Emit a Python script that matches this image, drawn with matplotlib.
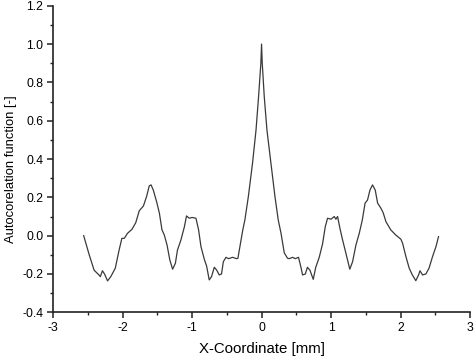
import numpy as np
import matplotlib
matplotlib.use("Agg")
import matplotlib.pyplot as plt
from matplotlib.ticker import MultipleLocator, FormatStrFormatter

# Autocorrelation curve
xCoord = [-2.56, -2.48, -2.41, -2.34, -2.32, -2.29, -2.26, -2.216, -2.17, -2.105,
          -2.05, -2.01, -1.975, -1.93, -1.865, -1.81, -1.76, -1.70, -1.655, -1.616,
          -1.59, -1.558, -1.51, -1.47, -1.433, -1.40, -1.36, -1.32, -1.28, -1.24,
          -1.21, -1.16, -1.11, -1.08, -1.04, -1.00, -0.944, -0.906, -0.872, -0.824,
          -0.79, -0.753, -0.72, -0.68, -0.647, -0.609, -0.576, -0.55, -0.512, -0.475,
          -0.417, -0.36, -0.34, -0.32, -0.27, -0.24, -0.19, -0.13, -0.08, -0.043,
          -0.01, 0.0, 0.01, 0.039, 0.078, 0.135, 0.193, 0.24, 0.28, 0.327,
          0.374, 0.40, 0.446, 0.485, 0.532, 0.567, 0.59, 0.63, 0.66, 0.696,
          0.744, 0.78, 0.83, 0.878, 0.917, 0.95, 1.0, 1.046, 1.07, 1.094,
          1.128, 1.166, 1.214, 1.27, 1.31, 1.358, 1.406, 1.45, 1.49, 1.525,
          1.56, 1.597, 1.636, 1.67, 1.718, 1.75, 1.79, 1.86, 1.93, 2.006,
          2.03, 2.078, 2.125, 2.17, 2.22, 2.26, 2.28, 2.317, 2.365, 2.41,
          2.46, 2.51, 2.547]
autoCorr = [0.0, -0.10, -0.18, -0.205, -0.214, -0.183, -0.20, -0.236, -0.214, -0.17,
            -0.075, -0.014, -0.014, 0.012, 0.033, 0.068, 0.13, 0.155, 0.204, 0.26,
            0.265, 0.238, 0.177, 0.117, 0.03, 0.004, -0.049, -0.127, -0.175, -0.144,
            -0.075, -0.022, 0.047, 0.103, 0.091, 0.095, 0.091, 0.03, -0.057, -0.123,
            -0.16, -0.231, -0.214, -0.165, -0.179, -0.205, -0.20, -0.136, -0.113, -0.12,
            -0.113, -0.12, -0.118, -0.075, 0.03, 0.082, 0.204, 0.378, 0.55, 0.725,
            0.90, 1.0, 0.90, 0.725, 0.55, 0.378, 0.204, 0.082, 0.013, -0.09,
            -0.118, -0.12, -0.113, -0.12, -0.113, -0.165, -0.205, -0.20, -0.165, -0.18,
            -0.228, -0.165, -0.113, -0.043, 0.047, 0.091, 0.086, 0.10, 0.086, 0.10,
            0.038, -0.022, -0.092, -0.175, -0.136, -0.049, 0.012, 0.082, 0.17, 0.186,
            0.238, 0.265, 0.238, 0.17, 0.143, 0.12, 0.073, 0.03, 0.004, -0.019,
            -0.04, -0.11, -0.17, -0.205, -0.235, -0.205, -0.183, -0.205, -0.20, -0.17,
            -0.11, -0.057, -0.005]

plt.rcParams['font.family'] = ['Liberation Sans', 'DejaVu Sans']
plt.rcParams['axes.unicode_minus'] = False

fig = plt.figure(figsize=(4.74, 3.6), dpi=100)
ax = fig.add_axes([0.112, 0.1325, 0.8796, 0.8515])

ax.plot(xCoord, autoCorr, color='#3a3a3a', linewidth=0.9)

ax.set_xlim(-3, 3)
ax.set_ylim(-0.4, 1.2)
ax.xaxis.set_major_locator(MultipleLocator(1))
ax.xaxis.set_minor_locator(MultipleLocator(0.5))
ax.yaxis.set_major_locator(MultipleLocator(0.2))
ax.yaxis.set_minor_locator(MultipleLocator(0.1))
ax.yaxis.set_major_formatter(FormatStrFormatter('%.1f'))

for side in ['top', 'right']:
    ax.spines[side].set_visible(False)
for side in ['left', 'bottom']:
    ax.spines[side].set_linewidth(1.2)
    ax.spines[side].set_color('#222222')

ax.tick_params(which='major', direction='out', length=4, width=1.1, labelsize=8.8, color='#222222', pad=3)
ax.tick_params(which='minor', direction='out', length=2.5, width=1.0, color='#222222')

ax.set_xlabel('X-Coordinate [mm]', fontsize=10.8, labelpad=6)
ax.set_ylabel('Autocorelation function [-]', fontsize=9.4)
ax.yaxis.set_label_coords(-0.087, 0.467)

fig.savefig('out.png', dpi=100)
